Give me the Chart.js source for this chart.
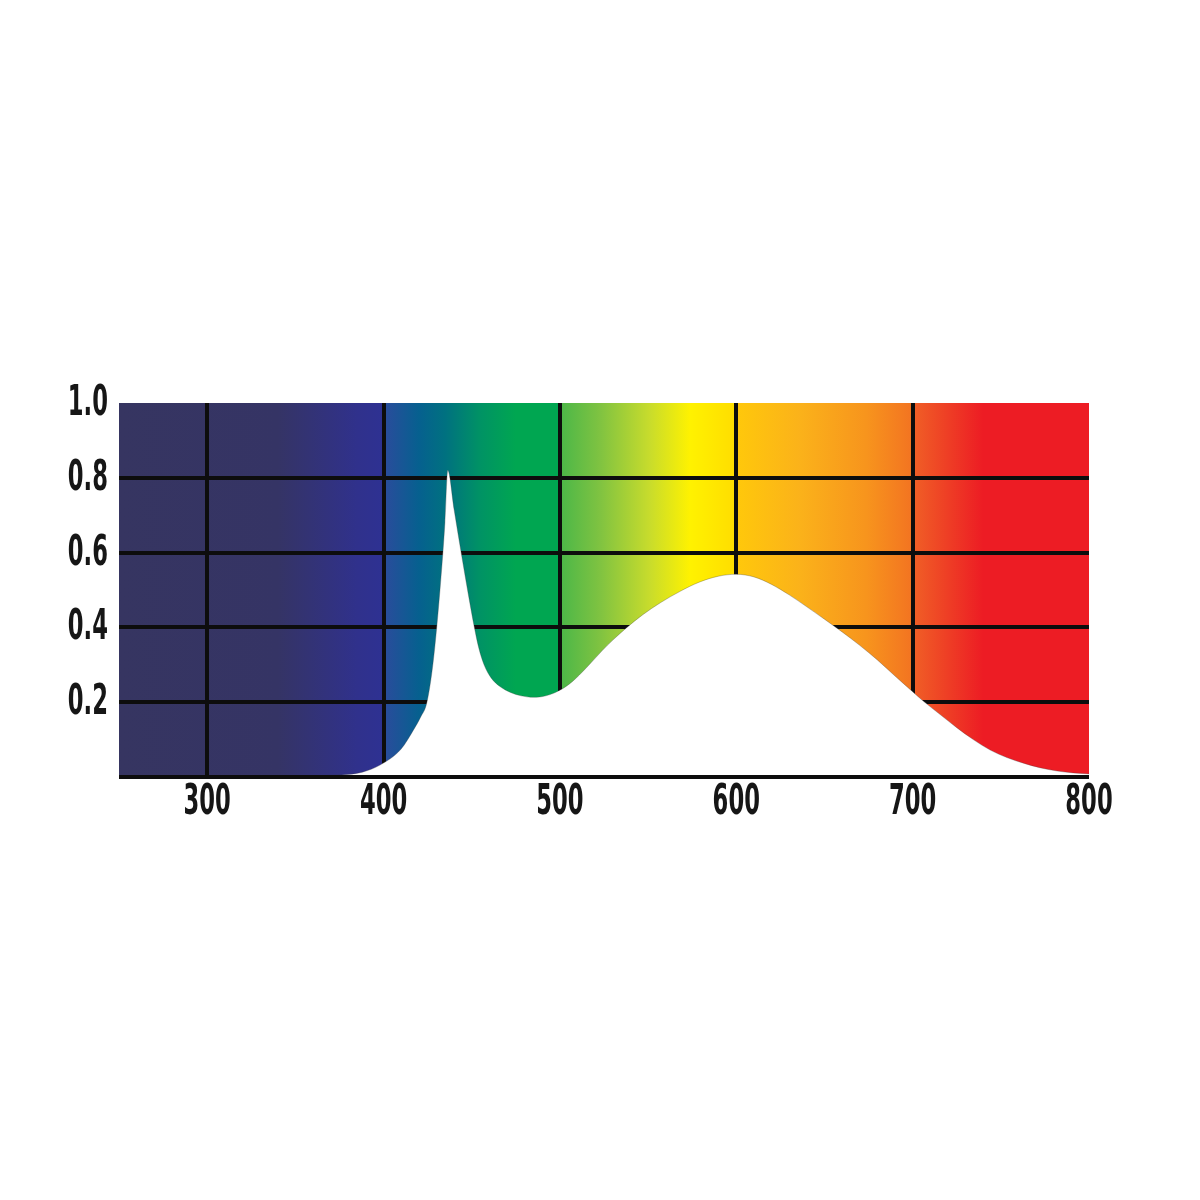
<!DOCTYPE html>
<html>
<head>
<meta charset="utf-8">
<title>Spectrum</title>
<script src="https://cdn.jsdelivr.net/npm/chart.js@4"></script>
<style>
  html, body { margin: 0; padding: 0; background: #fff; }
  #wrap { width: 1200px; height: 1200px; }
</style>
</head>
<body>
<div id="wrap"><canvas id="chart" width="1200" height="1200"></canvas></div>
<script>
// wavelength (nm) and relative intensity
const wavelengths = [250, 300, 340, 365, 380, 388, 398, 410, 417, 421, 424.6, 428.2, 432, 434.8, 436.4,
  440, 444, 448, 451.5, 454, 457, 461, 466, 472, 478, 485, 492, 500, 507, 515, 524, 530, 538, 547, 557,
  568, 579, 590, 600, 610, 620, 630, 640, 650, 660, 670, 680, 690, 700, 706, 715.6, 725, 734.4, 744,
  753.4, 762.8, 772, 782, 791, 800]
const intensity = [0.003, 0.003, 0.003, 0.004, 0.007, 0.013, 0.032, 0.075, 0.126, 0.16, 0.2, 0.31, 0.5, 0.68, 0.82,
  0.715, 0.6, 0.49, 0.4, 0.345, 0.3, 0.265, 0.242, 0.226, 0.217, 0.213, 0.217, 0.232, 0.255, 0.292, 0.338, 0.366, 0.4, 0.434, 0.466,
  0.496, 0.521, 0.537, 0.542, 0.535, 0.515, 0.487, 0.455, 0.422, 0.388, 0.352, 0.313, 0.27, 0.228, 0.203, 0.167, 0.132, 0.1, 0.072,
  0.052, 0.037, 0.025, 0.016, 0.011, 0.008]

const xTicks = [300, 400, 500, 600, 700, 800]
const yTicks = [0.2, 0.4, 0.6, 0.8, 1.0]

// background spectrum colours (nm -> colour)
const spectrumStops = [
  [250, "#363561"], [340, "#353465"], [385, "#30318c"], [399.5, "#2e3192"],
  [400.5, "#2a4c9c"], [420, "#06608f"], [435, "#007180"], [455, "#009364"],
  [475, "#00a651"], [499.5, "#00a651"], [500.5, "#4cb748"], [523, "#80c341"],
  [551, "#c8dc2c"], [574, "#fff200"], [599.5, "#ffdd00"], [600.5, "#ffc80b"],
  [636, "#fbb21a"], [674, "#f7941d"], [699.5, "#f37421"], [700.5, "#f05f26"],
  [720, "#ee3e25"], [740, "#ed1c24"], [800, "#ed1c24"]
]

const labelFont = "bold 42px 'DejaVu Sans Condensed', 'DejaVu Sans', sans-serif"
const labelSqueeze = 0.6
const labelColor = "#161616"
const gridColor = "#0d0d0d"

const spectrumBackground = {
  id: "spectrumBackground",
  beforeDraw(chart) {
    const { ctx, chartArea: a, scales: { x } } = chart
    const g = ctx.createLinearGradient(a.left, 0, a.right, 0)
    const w = a.right - a.left
    spectrumStops.forEach(([nm, c]) => {
      const t = (x.getPixelForValue(nm) - a.left) / w
      g.addColorStop(Math.min(1, Math.max(0, t)), c)
    })
    ctx.save()
    ctx.fillStyle = g
    ctx.fillRect(a.left, a.top, w, a.bottom - a.top)
    ctx.restore()
  }
}

// bottom axis line sits on top of the white fill
const baseLine = {
  id: "baseLine",
  afterDatasetsDraw(chart) {
    const { ctx, chartArea: a, scales: { y } } = chart
    const py = y.getPixelForValue(0)
    ctx.save()
    ctx.strokeStyle = gridColor
    ctx.lineWidth = 4
    ctx.beginPath()
    ctx.moveTo(a.left, py)
    ctx.lineTo(a.right, py)
    ctx.stroke()
    ctx.restore()
  }
}

// condensed tick labels: the scale's own ticks, drawn narrower
const narrowLabels = {
  id: "narrowLabels",
  afterDraw(chart) {
    const { ctx, chartArea: a, scales: { x, y } } = chart
    ctx.save()
    ctx.font = labelFont
    ctx.fillStyle = labelColor
    ctx.textBaseline = "middle"
    const put = (text, px, py, align) => {
      ctx.save()
      ctx.translate(px, py)
      ctx.scale(labelSqueeze, 1)
      ctx.textAlign = align
      ctx.fillText(text, 0, 0)
      ctx.restore()
    }
    x.ticks.forEach((t, i) => put(x.getLabelForValue(t.value), x.getPixelForTick(i), a.bottom + 26, "center"))
    y.ticks.forEach((t, i) => put(t.value.toFixed(1), a.left - 11, y.getPixelForTick(i) + 1, "right"))
    ctx.restore()
  }
}

new Chart(document.getElementById("chart"), {
  type: "line",
  data: {
    datasets: [{
      data: wavelengths.map((w, i) => ({ x: w, y: intensity[i] })),
      fill: "origin",
      backgroundColor: "#ffffff",
      borderColor: "rgba(60,60,60,0.3)",
      borderWidth: 1,
      pointRadius: 0,
      cubicInterpolationMode: "monotone"
    }]
  },
  options: {
    responsive: false,
    animation: false,
    events: [],
    layout: { padding: { top: 403, right: 111, bottom: 323, left: 0 } },
    plugins: { legend: { display: false }, tooltip: { enabled: false } },
    scales: {
      x: {
        type: "linear",
        min: 250,
        max: 800,
        afterBuildTicks: s => { s.ticks = xTicks.map(v => ({ value: v })) },
        afterFit: s => { s.height = 100 },
        border: { display: false },
        grid: {
          drawTicks: false,
          lineWidth: 4,
          color: c => (c.tick && c.tick.value === 800 ? "transparent" : gridColor)
        },
        ticks: { color: "transparent", font: { size: 40 }, maxRotation: 0, autoSkip: false }
      },
      y: {
        min: 0,
        max: 1,
        afterBuildTicks: s => { s.ticks = yTicks.map(v => ({ value: v })) },
        afterFit: s => { s.width = 119 },
        border: { display: false },
        grid: {
          drawTicks: false,
          lineWidth: 4,
          color: c => (c.tick && c.tick.value === 1 ? "transparent" : gridColor)
        },
        ticks: { color: "transparent", font: { size: 40 }, callback: v => v.toFixed(1) }
      }
    }
  },
  plugins: [spectrumBackground, baseLine, narrowLabels]
})
</script>
</body>
</html>
